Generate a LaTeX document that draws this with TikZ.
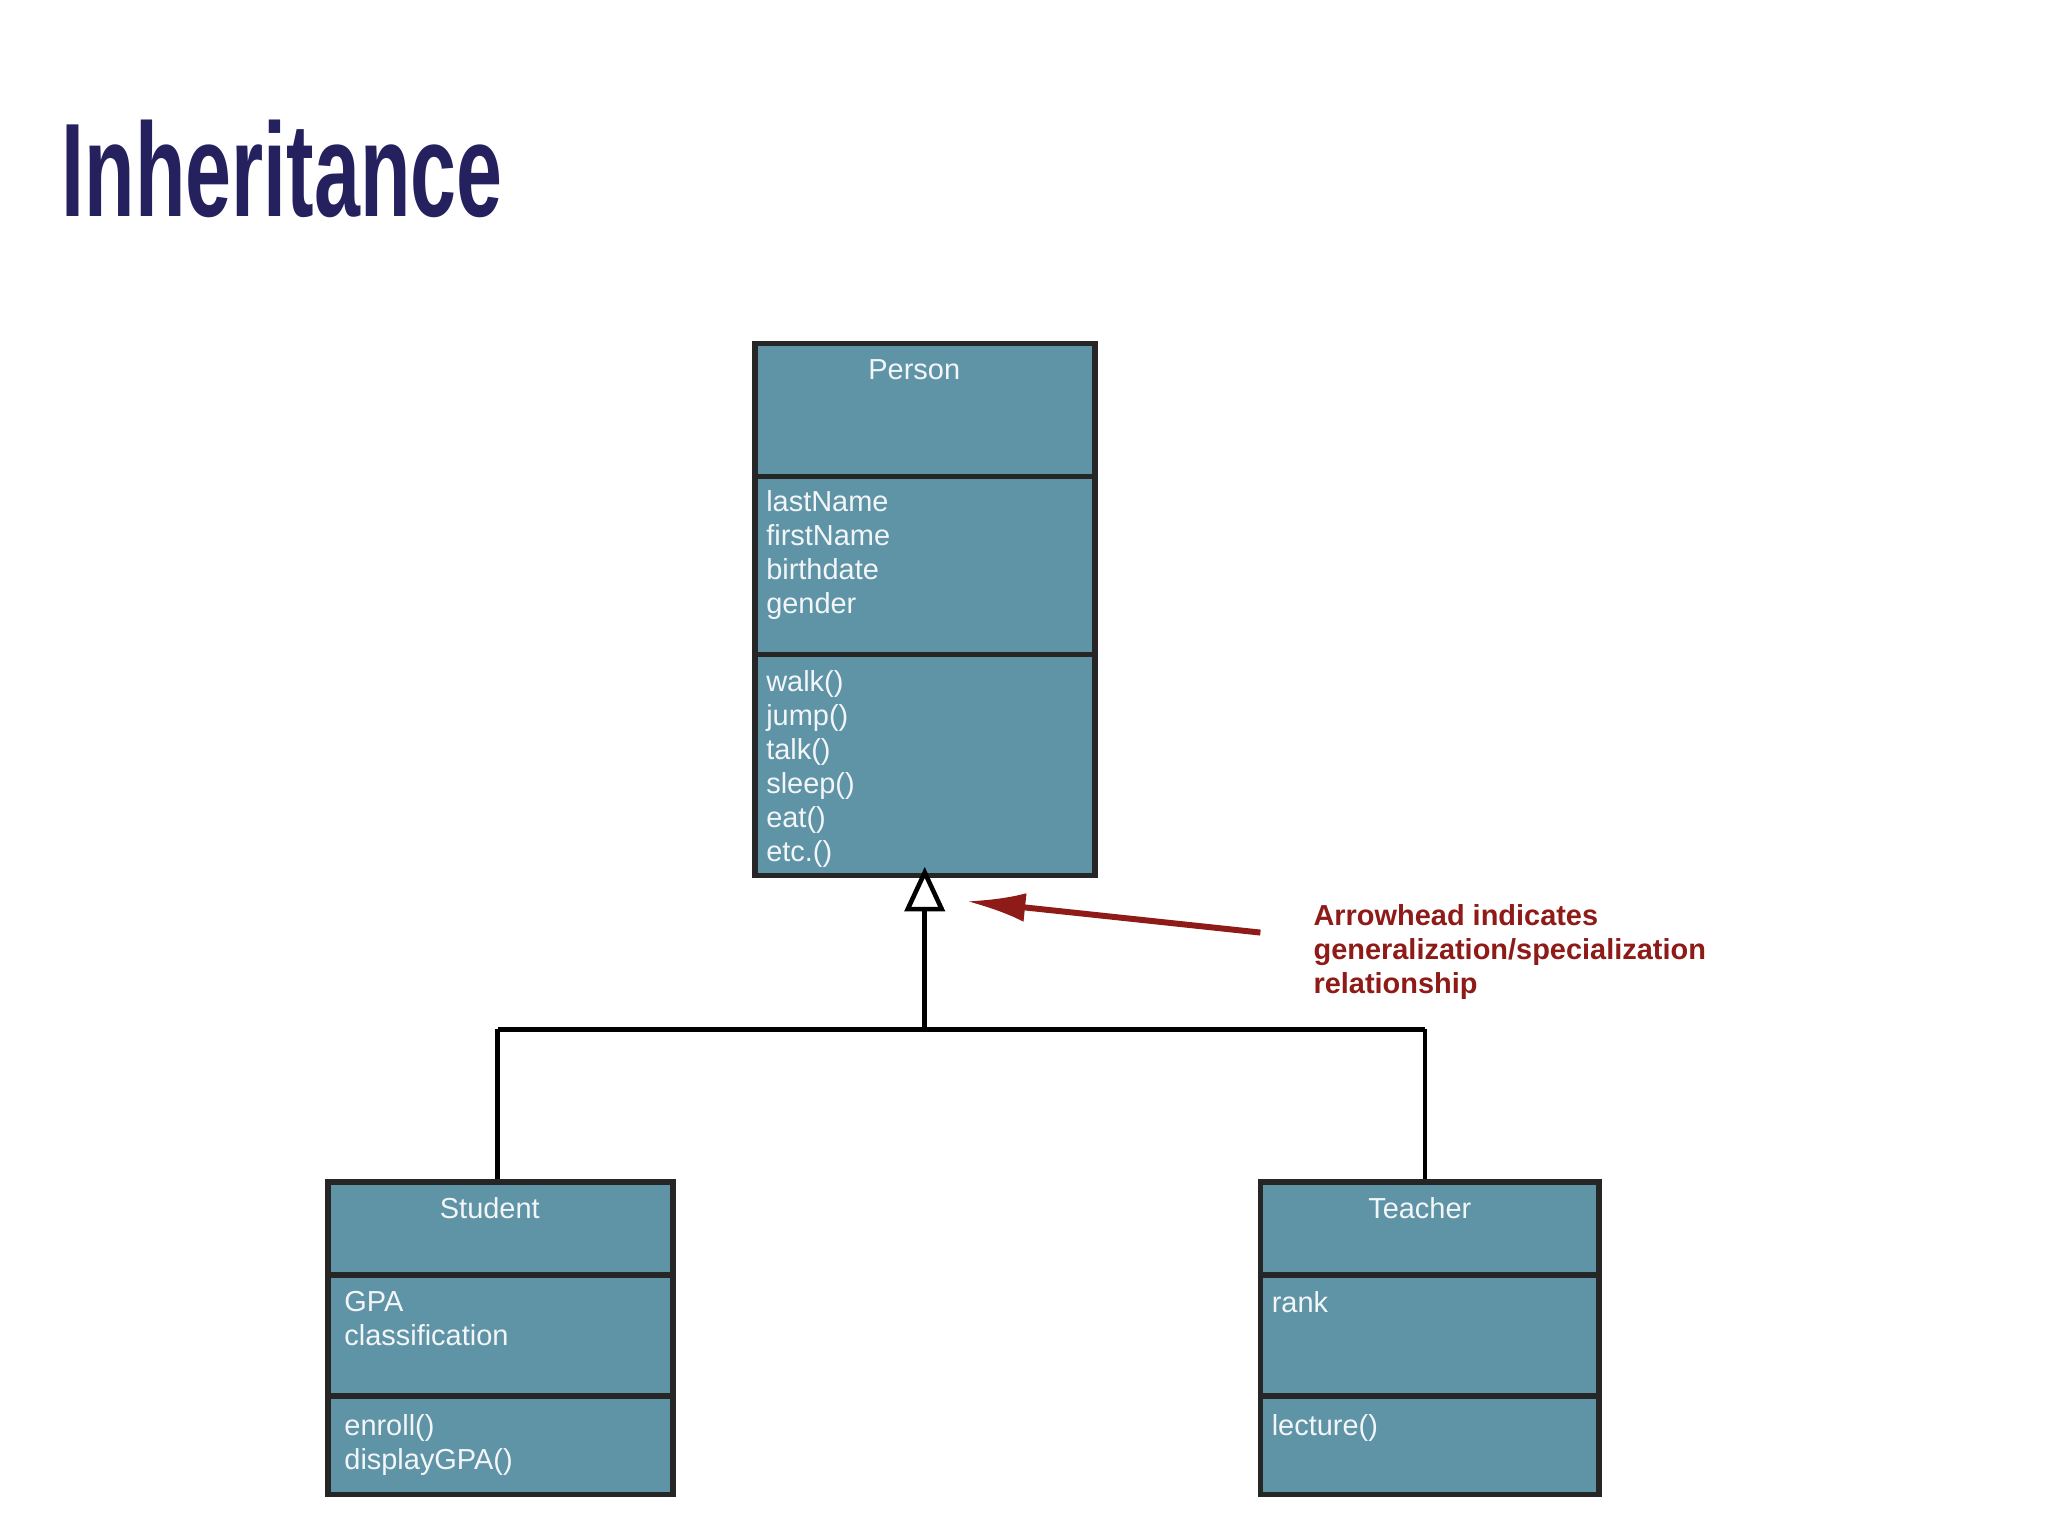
\documentclass[tikz,border=0pt]{standalone}
\usepackage{fontspec}
\setmainfont{Liberation Sans}
\usetikzlibrary{arrows.meta,calc}
\definecolor{boxfill}{HTML}{5F93A6}
\definecolor{titleblue}{HTML}{25215F}
\definecolor{noteRed}{HTML}{8E1B17}
\begin{document}
\begin{tikzpicture}[x=0.01cm,y=-0.01cm,
  umlbox/.style={draw=black!85,line width=1.2pt,fill=boxfill,inner sep=0,anchor=north west},
  divider/.style={draw=black!85,line width=1.2pt},
  lbl/.style={text=white!92!boxfill,font=\fontsize{6.3}{7.4}\selectfont,inner sep=0,align=left},
  conn/.style={draw=black,line width=1pt},
  note/.style={text=noteRed,font=\fontsize{6.3}{7.4}\selectfont\bfseries,inner sep=0,align=left,anchor=north west}]
\useasboundingbox (0,0) rectangle (1568,1176);
\fill[white] (0,0) rectangle (1568,1176);
% title
\node[anchor=base west,inner sep=0,text=titleblue,font=\fontsize{29}{30}\selectfont\bfseries,xscale=0.62] (title) at (47,166) {Inheritance};
% Person
\node[umlbox,minimum width=2.6cm,minimum height=4.07cm] (person) at (576,261) {};
\draw[divider] (576,365) -- (836,365);
\draw[divider] (576,501) -- (836,501);
\node[lbl] (pname) at (700,283) {Person};
\node[lbl,anchor=north west] (pattr) at (586,375) {lastName\\firstName\\birthdate\\gender};
\node[lbl,anchor=north west] (pops) at (586,513) {walk()\\jump()\\talk()\\sleep()\\eat()\\etc.()};
% Student
\node[umlbox,minimum width=2.64cm,minimum height=2.39cm] (student) at (249,903) {};
\draw[divider] (249,976) -- (513,976);
\draw[divider] (249,1069) -- (513,1069);
\node[lbl] (sname) at (375,925) {Student};
\node[lbl,anchor=north west] (sattr) at (263,988) {GPA\\classification};
\node[lbl,anchor=north west] (sops) at (263,1082) {enroll()\\displayGPA()};
% Teacher
\node[umlbox,minimum width=2.59cm,minimum height=2.39cm] (teacher) at (963,903) {};
\draw[divider] (963,976) -- (1222,976);
\draw[divider] (963,1069) -- (1222,1069);
\node[lbl] (tname) at (1087,925) {Teacher};
\node[lbl,anchor=north west] (tattr) at (973,988) {rank};
\node[lbl,anchor=north west] (tops) at (973,1082) {lecture()};
% connectors
\coordinate (tip) at (708,668);
\coordinate (base) at (708,696);
\coordinate (junc) at (708,788);
\coordinate (sl) at (381,788);
\coordinate (tr) at (1091,788);
\draw[conn,fill=white] (tip) -- (721,696) -- (695,696) -- cycle;
\draw[conn] (base) -- (junc);
\draw[conn] (sl) -- (tr);
\draw[conn] (sl) -- (381,903);
\draw[conn] (tr) -- (1091,903);
% note
\coordinate (nstart) at (965,714);
\coordinate (nend) at (740,690);
\draw[noteRed,line width=1.3pt,-{Latex[length=0.45cm,width=0.22cm]}] (nstart) -- (nend);
\node[note] (notetext) at (1005,692) {Arrowhead indicates\\generalization/specialization\\relationship};
\end{tikzpicture}
\end{document}
